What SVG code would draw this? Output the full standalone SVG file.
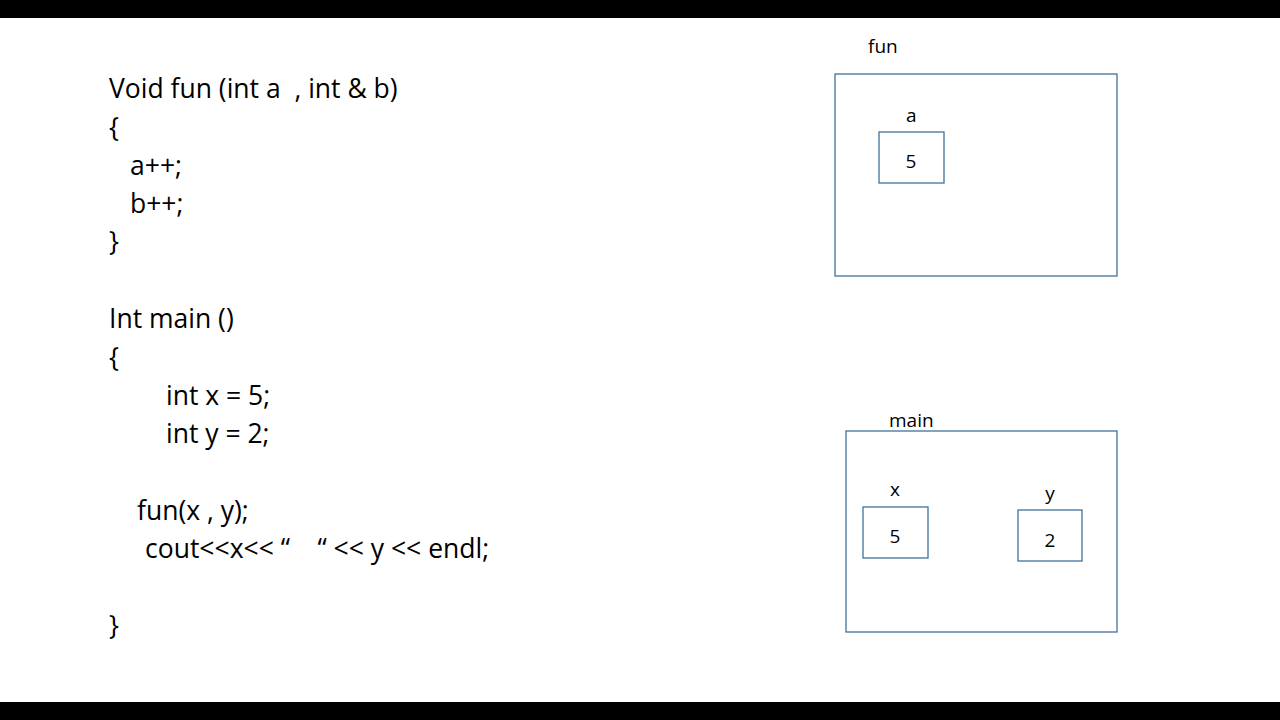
<svg xmlns="http://www.w3.org/2000/svg" width="1280" height="720" viewBox="0 0 1280 720">
<style>
.code{font-family:"Open Sans","Liberation Sans",sans-serif;font-size:26.5px;fill:#000;white-space:pre}
.lbl{font-family:"Open Sans","Liberation Sans",sans-serif;font-size:19px;fill:#000}
.box{fill:#fff;stroke:#41719c;stroke-width:1.3}
</style>
<rect width="1280" height="720" fill="#fff"/>
<rect width="1280" height="18" fill="#000"/>
<rect y="702" width="1280" height="18" fill="#000"/>
<g id="code" xml:space="preserve">
<text class="code" x="109" y="98">Void fun (int a  , int &amp; b)</text>
<text class="code" x="109" y="137">{</text>
<text class="code" x="130" y="175">a++;</text>
<text class="code" x="130" y="213">b++;</text>
<text class="code" x="109" y="251">}</text>
<text class="code" x="109" y="328">Int main ()</text>
<text class="code" x="109" y="367">{</text>
<text class="code" x="166" y="405">int x = 5;</text>
<text class="code" x="166" y="443">int y = 2;</text>
<text class="code" x="137" y="520">fun(x , y);</text>
<text class="code" x="145" y="558">cout&lt;&lt;x&lt;&lt; “    “ &lt;&lt; y &lt;&lt; endl;</text>
<text class="code" x="109" y="635">}</text>
</g>
<g id="fun">
<text class="lbl" x="868" y="53">fun</text>
<rect class="box" x="835" y="74" width="282" height="202"/>
</g>
<g id="a">
<text class="lbl" x="906" y="122">a</text>
<rect class="box" x="879" y="132" width="65" height="51"/>
<text class="lbl" x="911" y="168" text-anchor="middle">5</text>
</g>
<g id="main">
<text class="lbl" x="889" y="427">main</text>
<rect class="box" x="846" y="431" width="271" height="201"/>
</g>
<g id="x">
<text class="lbl" x="895" y="496" text-anchor="middle">x</text>
<rect class="box" x="863" y="507" width="65" height="51"/>
<text class="lbl" x="895" y="543" text-anchor="middle">5</text>
</g>
<g id="y">
<text class="lbl" x="1050" y="500" text-anchor="middle">y</text>
<rect class="box" x="1018" y="510" width="64" height="51"/>
<text class="lbl" x="1050" y="547" text-anchor="middle">2</text>
</g>
<g id="connectors"/>
</svg>
